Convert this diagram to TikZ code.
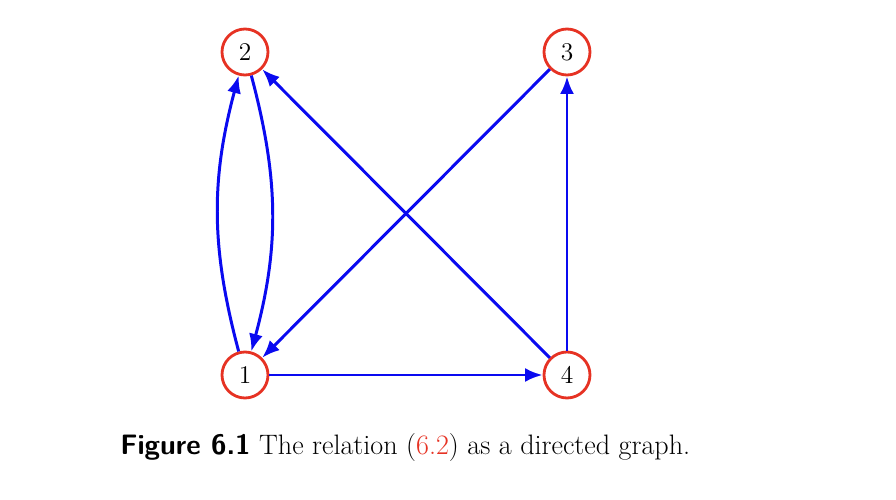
\documentclass[tikz,border=0pt]{standalone}
\usepackage{fontspec}
\usetikzlibrary{arrows.meta}
\definecolor{nodered}{RGB}{230,50,35}
\definecolor{edgeblue}{RGB}{10,10,240}
\begin{document}
\begin{tikzpicture}[x=0.02cm,y=-0.02cm,
  vert/.style={circle,draw=nodered,line width=1.6pt,minimum size=0.92cm,inner sep=0pt,font=\fontsize{14.5}{16}\selectfont,fill=white},
  edge/.style={draw=edgeblue,line width=1.7pt,-{Latex[length=10pt,width=8pt]}}]
\useasboundingbox (0,0) rectangle (896,500);
\node[vert] (n2) at (245,52) {2};
\node[vert] (n3) at (567,52) {3};
\node[vert] (n1) at (245,375) {1};
\node[vert] (n4) at (567,375) {4};
\draw[edge] (n1) to[bend left=15] (n2);
\draw[edge] (n2) to[bend left=15] (n1);
\draw[edge] (n1) -- (n4);
\draw[edge] (n4) -- (n3);
\draw[edge] (n3) -- (n1);
\draw[edge] (n4) -- (n2);
\node[anchor=west,font=\fontsize{16}{18}\selectfont,inner sep=0pt] (cap) at (120,447)
  {{\sffamily\bfseries Figure 6.1} The relation ({\color{nodered}6.2}) as a directed graph.};
\end{tikzpicture}
\end{document}
